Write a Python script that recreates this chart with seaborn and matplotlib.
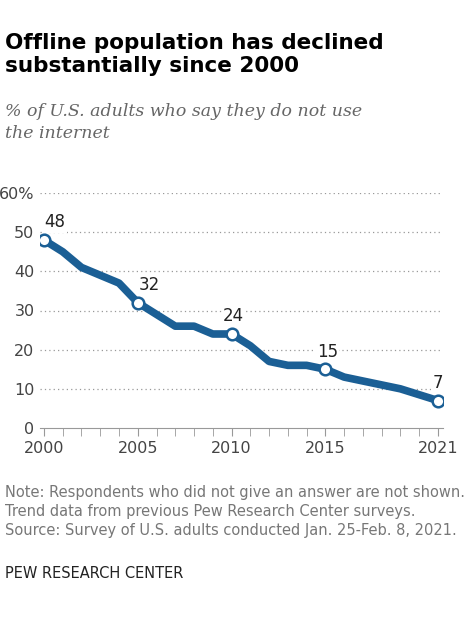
import matplotlib
matplotlib.use("Agg")
import matplotlib.pyplot as plt
import seaborn as sns
import pandas as pd

years = [2000,2001,2002,2003,2004,2005,2006,2007,2008,2009,2010,2011,2012,2013,2014,2015,2016,2017,2018,2019,2021]
values = [48,45,41,39,37,32,29,26,26,24,24,21,17,16,16,15,13,12,11,10,7]
labeled_years = [2000,2005,2010,2015,2021]
xticks = [2000,2005,2010,2015,2021]
yticks = [0,10,20,30,40,50,60]
ytick_labels = ["0","10","20","30","40","50","60%"]

sns.set_style("white")
plt.rcParams['font.family'] = ['DejaVu Sans']
df = pd.DataFrame({"year": years, "value": values})
W, H = 474, 617
fig = plt.figure(figsize=(W/100, H/100), dpi=100)
ax = fig.add_axes([40/W, (H-428)/H, 403/W, 235/H])
blue = "#1b5f95"
sns.lineplot(data=df, x="year", y="value", ax=ax, color=blue, linewidth=5.5, solid_joinstyle="round")
lab = df[df.year.isin(labeled_years)]
ax.scatter(lab.year, lab.value, s=70, facecolor="white", edgecolor=blue, linewidth=1.8, zorder=5)
for y, v in zip(lab.year, lab.value):
    dx = 0.6 if y in (2000, 2005) else 0.1
    ax.text(y + (dx if y != 2021 else 0), v + 2.2, str(v), fontsize=12, ha="center", va="bottom", color="#222",
            bbox=dict(facecolor="white", edgecolor="none", pad=1))
ax.set_xlim(2000-0.21, 2021+0.27)
ax.set_ylim(0, 60)
ax.set_yticks(yticks)
ax.set_yticklabels(ytick_labels)
ax.set_xticks(xticks)
ax.set_xticks(range(2000, 2022), minor=True)
for yv in yticks[1:]:
    ax.axhline(yv, color="#999", linestyle=(0, (1, 2.5)), linewidth=0.9, zorder=0)
for s in ["top", "right", "left"]:
    ax.spines[s].set_visible(False)
ax.spines["bottom"].set_color("#999")
ax.tick_params(axis="x", which="both", direction="out", length=6, color="#999", labelsize=11.5, labelcolor="#444", bottom=True)
ax.tick_params(axis="y", length=0, labelsize=11.5, labelcolor="#444", pad=4)
ax.set_xlabel(""); ax.set_ylabel("")

fig.text(5/W, 1-33/H, "Offline population has declined\nsubstantially since 2000", fontsize=15.5, fontweight="bold", va="top", ha="left", color="#000", linespacing=1.2)
fig.text(5/W, 1-103/H, "% of U.S. adults who say they do not use\nthe internet", fontsize=12.5, style="italic", family="DejaVu Serif", va="top", ha="left", color="#666", linespacing=1.4)
fig.text(5/W, 1-485/H, "Note: Respondents who did not give an answer are not shown.\nTrend data from previous Pew Research Center surveys.\nSource: Survey of U.S. adults conducted Jan. 25-Feb. 8, 2021.", fontsize=10.5, va="top", ha="left", color="#777", linespacing=1.35)
fig.text(5/W, 1-566/H, "PEW RESEARCH CENTER", fontsize=10.5, va="top", ha="left", color="#222")
fig.savefig("out.png", dpi=100, facecolor="white")
